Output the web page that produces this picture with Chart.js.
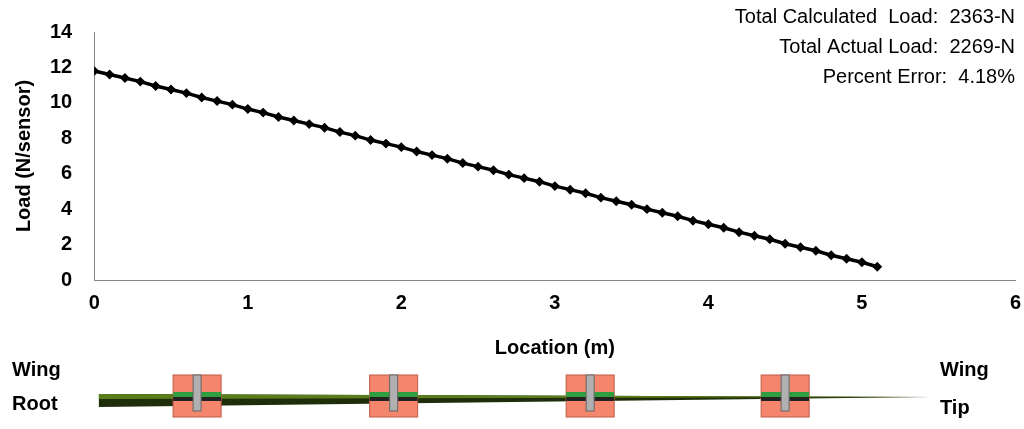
<!DOCTYPE html>
<html><head><meta charset="utf-8">
<script src="https://cdn.jsdelivr.net/npm/chart.js@4/dist/chart.umd.min.js"></script>
<style>html,body{margin:0;padding:0;background:#fff}#c{display:block}</style>
</head><body>
<canvas id="c" width="1024" height="429"></canvas>
<script>
const locations = [0,0.1,0.2,0.3,0.4,0.5,0.6,0.7,0.8,0.9,1.0,1.1,1.2,1.3,1.4,1.5,1.6,1.7,1.8,1.9,2.0,2.1,2.2,2.3,2.4,2.5,2.6,2.7,2.8,2.9,3.0,3.1,3.2,3.3,3.4,3.5,3.6,3.7,3.8,3.9,4.0,4.1,4.2,4.3,4.4,4.5,4.6,4.7,4.8,4.9,5.0,5.1];
const loads = [11.8,11.6,11.4,11.2,10.95,10.75,10.55,10.3,10.1,9.9,9.65,9.45,9.2,9.0,8.8,8.6,8.35,8.15,7.9,7.7,7.5,7.25,7.05,6.85,6.6,6.4,6.2,5.95,5.75,5.55,5.3,5.1,4.9,4.65,4.45,4.25,4.0,3.8,3.6,3.35,3.15,2.95,2.7,2.5,2.3,2.05,1.85,1.65,1.4,1.2,1.0,0.75];
const sensorLocations = [0.67,1.95,3.23,4.5];
const annotations = ["Total Calculated  Load:  2363-N","Total Actual Load:  2269-N","Percent Error:  4.18%"];

const overlay = {
  id:'overlay',
  afterDraw(chart){
    const ctx = chart.ctx, xs = chart.scales.x;
    ctx.save();
    ctx.fillStyle='#000'; ctx.font='20px Arial, "Liberation Sans"'; ctx.textAlign='right'; ctx.textBaseline='middle';
    annotations.forEach((t,i)=>ctx.fillText(t,1015,17+i*30));
    ctx.font='bold 20px Arial, "Liberation Sans"'; ctx.textAlign='left';
    ctx.fillText('Wing',12,370); ctx.fillText('Root',12,404);
    ctx.fillText('Wing',940,370); ctx.fillText('Tip',940,408);
    const x0 = xs.getPixelForValue(0.03), x1 = xs.getPixelForValue(5.44);
    ctx.beginPath(); ctx.moveTo(x0,394); ctx.lineTo(x1,397); ctx.lineTo(x0,407); ctx.closePath();
    ctx.fillStyle='#1e2d0a'; ctx.fill();
    ctx.beginPath(); ctx.moveTo(x0,394); ctx.lineTo(x1,397); ctx.lineTo(x0,399); ctx.closePath();
    ctx.fillStyle='#5a7d1c'; ctx.fill();
    sensorLocations.forEach(v=>{
      const cx = xs.getPixelForValue(v);
      ctx.fillStyle='#f4866e'; ctx.strokeStyle='#c05a45'; ctx.lineWidth=1;
      ctx.fillRect(cx-24,375,48,42); ctx.strokeRect(cx-24,375,48,42);
      ctx.fillStyle='#2e9e3e'; ctx.fillRect(cx-24,392,48,5);
      ctx.fillStyle='#222'; ctx.fillRect(cx-24,397,48,4);
      ctx.fillStyle='#b0b0b0'; ctx.strokeStyle='#666';
      ctx.fillRect(cx-4,375,8,36); ctx.strokeRect(cx-4,375,8,36);
    });
    ctx.restore();
  }
};

new Chart(document.getElementById('c'),{
  type:'scatter',
  data:{datasets:[{data:locations.map((x,i)=>({x,y:loads[i]})),showLine:true,borderColor:'#000',backgroundColor:'#000',borderWidth:3.5,pointStyle:'rectRot',pointRadius:2.5}]},
  options:{
    responsive:false,animation:false,
    layout:{padding:{top:32,right:8,bottom:65,left:8}},
    plugins:{legend:{display:false},tooltip:{enabled:false}},
    scales:{
      x:{type:'linear',min:0,max:6,ticks:{stepSize:1,color:'#000',font:{family:'Arial, "Liberation Sans"',size:20,weight:'bold'}},
         grid:{display:false},border:{color:'#888'},
         title:{display:true,text:'Location (m)',color:'#000',font:{family:'Arial, "Liberation Sans"',size:20,weight:'bold'},padding:{top:18}}},
      y:{min:0,max:14,ticks:{stepSize:2,color:'#000',padding:14,font:{family:'Arial, "Liberation Sans"',size:20,weight:'bold'}},
         grid:{display:false},border:{color:'#888'},
         title:{display:true,text:'Load (N/sensor)',color:'#000',padding:{bottom:0},font:{family:'Arial, "Liberation Sans"',size:20,weight:'bold'}}}
    }
  },
  plugins:[overlay]
});
</script>
</body></html>
